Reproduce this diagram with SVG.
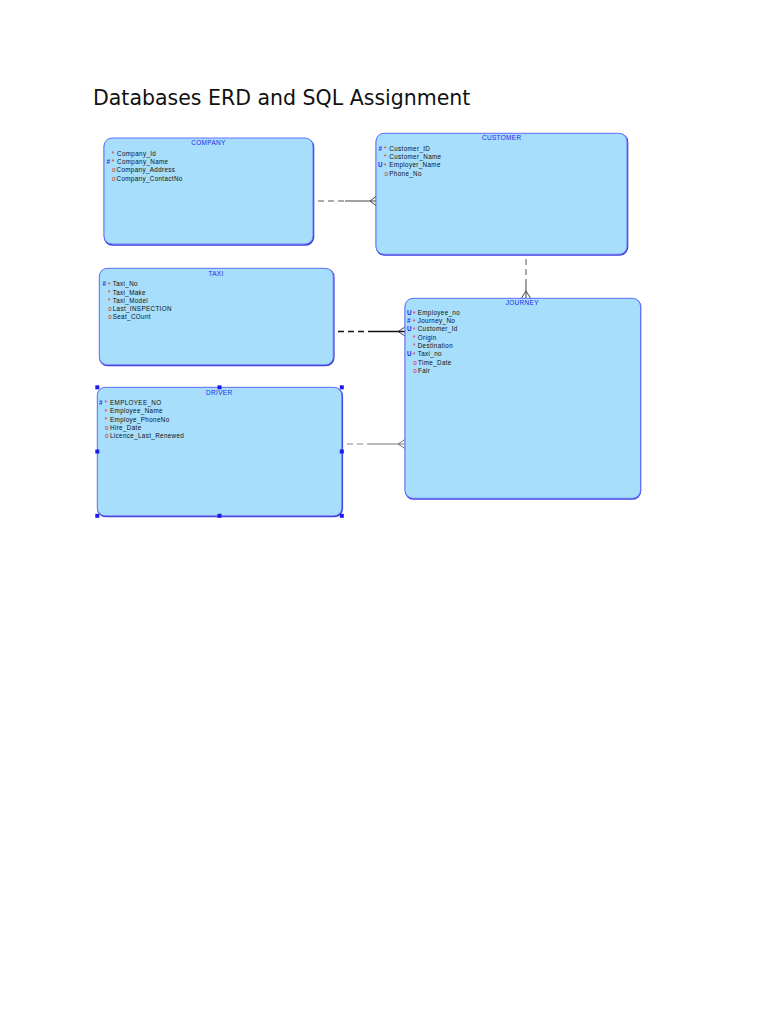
<svg xmlns="http://www.w3.org/2000/svg" width="768" height="1024" viewBox="0 0 768 1024">
<style>
.bg{fill:#fff}
.shadow{fill:none;stroke:#3b3bd9;stroke-width:1.6}
.box{fill:#a6defb;stroke:#6673ff;stroke-width:1}
.ttl{font-family:"Liberation Sans",Arial,sans-serif;font-size:6.5px;fill:#2a2ae6;text-anchor:middle;letter-spacing:0.3px}
.row{font-family:"Liberation Sans",Arial,sans-serif;font-size:6.3px;fill:#111;letter-spacing:0.35px}
.red{font-family:"Liberation Sans",Arial,sans-serif;font-size:6.3px;fill:#e0201e}
.blu{font-family:"Liberation Sans",Arial,sans-serif;font-size:6.3px;fill:#2a2ae6;font-weight:bold}
.title{font-family:"DejaVu Sans",sans-serif;font-size:20.5px;fill:#111}
.dash{stroke:#555;stroke-width:1;stroke-dasharray:6,4;fill:none}
.solid{stroke:#444;stroke-width:1;fill:none}
.handle{fill:#1a1aee}
</style>
<rect class="bg" x="0" y="0" width="768" height="1024"/>
<text class="title" x="93" y="105">Databases ERD and SQL Assignment</text>

<g id="connectors">
  <!-- COMPANY - CUSTOMER -->
  <line class="dash" x1="318" y1="201" x2="345" y2="201"/>
  <line class="solid" x1="345" y1="201" x2="376" y2="201"/>
  <polyline class="solid" points="376,196.5 370,201 376,205.5"/>
  <!-- TAXI - JOURNEY -->
  <line class="dash" x1="338" y1="331.5" x2="368" y2="331.5" style="stroke:#111;stroke-width:1.3"/>
  <line class="solid" x1="368" y1="331.5" x2="405" y2="331.5" style="stroke:#111;stroke-width:1.3"/>
  <polyline class="solid" points="405,327 398,331.5 405,336"/>
  <!-- CUSTOMER - JOURNEY -->
  <line class="dash" x1="526" y1="259" x2="526" y2="279"/>
  <line class="solid" x1="526" y1="279" x2="526" y2="298"/>
  <polyline class="solid" points="521.5,298 526,291 530.5,298"/>
  <!-- DRIVER - JOURNEY -->
  <line class="dash" x1="347" y1="444" x2="368" y2="444" style="stroke:#888"/>
  <line class="solid" x1="368" y1="444" x2="405" y2="444" style="stroke:#777"/>
  <polyline class="solid" points="405,439.5 398,444 405,448.5" style="stroke:#777"/>
</g>

<g id="company">
  <rect class="shadow" x="104.5" y="139" width="209" height="106" rx="8"/>
  <rect class="box" x="104" y="138" width="209" height="106" rx="8"/>
  <text class="ttl" x="208.5" y="144.5">COMPANY</text>
  <text class="red" x="111.8" y="156">*</text><text class="row" x="117" y="155.5">Company_Id</text>
  <text class="blu" x="106.5" y="164">#</text><text class="red" x="111.8" y="164.3">*</text><text class="row" x="117" y="163.8">Company_Name</text>
  <text class="red" x="112" y="172.2">o</text><text class="row" x="116.5" y="172.2">Company_Address</text>
  <text class="red" x="112" y="180.5">o</text><text class="row" x="116.5" y="180.5">Company_ContactNo</text>
</g>

<g id="customer">
  <rect class="shadow" x="376.5" y="134" width="251" height="121" rx="8"/>
  <rect class="box" x="376" y="133.3" width="251" height="121" rx="8"/>
  <text class="ttl" x="501.7" y="140">CUSTOMER</text>
  <text class="blu" x="378.5" y="150.5">#</text><text class="red" x="384" y="151">*</text><text class="row" x="389.3" y="150.5">Customer_ID</text>
  <text class="red" x="384" y="159.3">*</text><text class="row" x="389.3" y="158.8">Customer_Name</text>
  <text class="blu" x="378" y="167.2">U</text><text class="red" x="384" y="167.6">*</text><text class="row" x="389.3" y="167.2">Employer_Name</text>
  <text class="red" x="384.5" y="175.5">o</text><text class="row" x="389.3" y="175.5">Phone_No</text>
</g>

<g id="taxi">
  <rect class="shadow" x="99.8" y="269" width="234" height="96.5" rx="8"/>
  <rect class="box" x="99.3" y="268.3" width="234" height="96.5" rx="8"/>
  <text class="ttl" x="216" y="275.5">TAXI</text>
  <text class="blu" x="102.5" y="286.2">#</text><text class="red" x="108" y="286.6">*</text><text class="row" x="112.7" y="286.2">Taxi_No</text>
  <text class="red" x="108" y="294.8">*</text><text class="row" x="112.7" y="294.5">Taxi_Make</text>
  <text class="red" x="108" y="302.8">*</text><text class="row" x="112.7" y="302.5">Taxi_Model</text>
  <text class="red" x="108.3" y="310.9">o</text><text class="row" x="112.7" y="310.9">Last_INSPECTION</text>
  <text class="red" x="108.3" y="319.2">o</text><text class="row" x="112.7" y="319.2">Seat_COunt</text>
</g>

<g id="journey">
  <rect class="shadow" x="405.5" y="299" width="235" height="200" rx="8"/>
  <rect class="box" x="405" y="298.3" width="235.5" height="200" rx="8"/>
  <text class="ttl" x="522.3" y="304.5">JOURNEY</text>
  <text class="blu" x="407" y="315.2">U</text><text class="red" x="413" y="315.6">*</text><text class="row" x="417.7" y="315.2">Employee_no</text>
  <text class="blu" x="407" y="323.2">#</text><text class="red" x="413" y="323.6">*</text><text class="row" x="417.7" y="323.2">Journey_No</text>
  <text class="blu" x="407" y="331.2">U</text><text class="red" x="413" y="331.6">*</text><text class="row" x="417.7" y="331.2">Customer_Id</text>
  <text class="red" x="413" y="339.9">*</text><text class="row" x="417.7" y="339.5">Origin</text>
  <text class="red" x="413" y="348.3">*</text><text class="row" x="417.7" y="347.9">Destination</text>
  <text class="blu" x="407" y="356.2">U</text><text class="red" x="413" y="356.6">*</text><text class="row" x="417.7" y="356.2">Taxi_no</text>
  <text class="red" x="413.3" y="364.5">o</text><text class="row" x="418" y="364.5">Time_Date</text>
  <text class="red" x="413.3" y="373.2">o</text><text class="row" x="418" y="373.2">Fair</text>
</g>

<g id="driver">
  <rect class="shadow" x="97.8" y="388" width="244.5" height="128.5" rx="8"/>
  <rect class="box" x="97.3" y="387.3" width="244.5" height="128.5" rx="8"/>
  <text class="ttl" x="219.3" y="394.5">DRIVER</text>
  <text class="blu" x="99" y="404.9">#</text><text class="red" x="104.8" y="405.3">*</text><text class="row" x="110" y="404.9">EMPLOYEE_NO</text>
  <text class="red" x="104.8" y="413.5">*</text><text class="row" x="110" y="413.2">Employee_Name</text>
  <text class="red" x="104.8" y="421.8">*</text><text class="row" x="110" y="421.5">Employe_PhoneNo</text>
  <text class="red" x="105" y="429.9">o</text><text class="row" x="110" y="429.9">Hire_Date</text>
  <text class="red" x="105" y="438.2">o</text><text class="row" x="110" y="438.2">Licence_Last_Renewed</text>
  <rect class="handle" x="95.3" y="385.3" width="4" height="4"/>
  <rect class="handle" x="217.5" y="385.3" width="4" height="4"/>
  <rect class="handle" x="339.8" y="385.3" width="4" height="4"/>
  <rect class="handle" x="95.3" y="449.5" width="4" height="4"/>
  <rect class="handle" x="339.8" y="449.5" width="4" height="4"/>
  <rect class="handle" x="95.3" y="513.8" width="4" height="4"/>
  <rect class="handle" x="217.5" y="513.8" width="4" height="4"/>
  <rect class="handle" x="339.8" y="513.8" width="4" height="4"/>
</g>
</svg>
